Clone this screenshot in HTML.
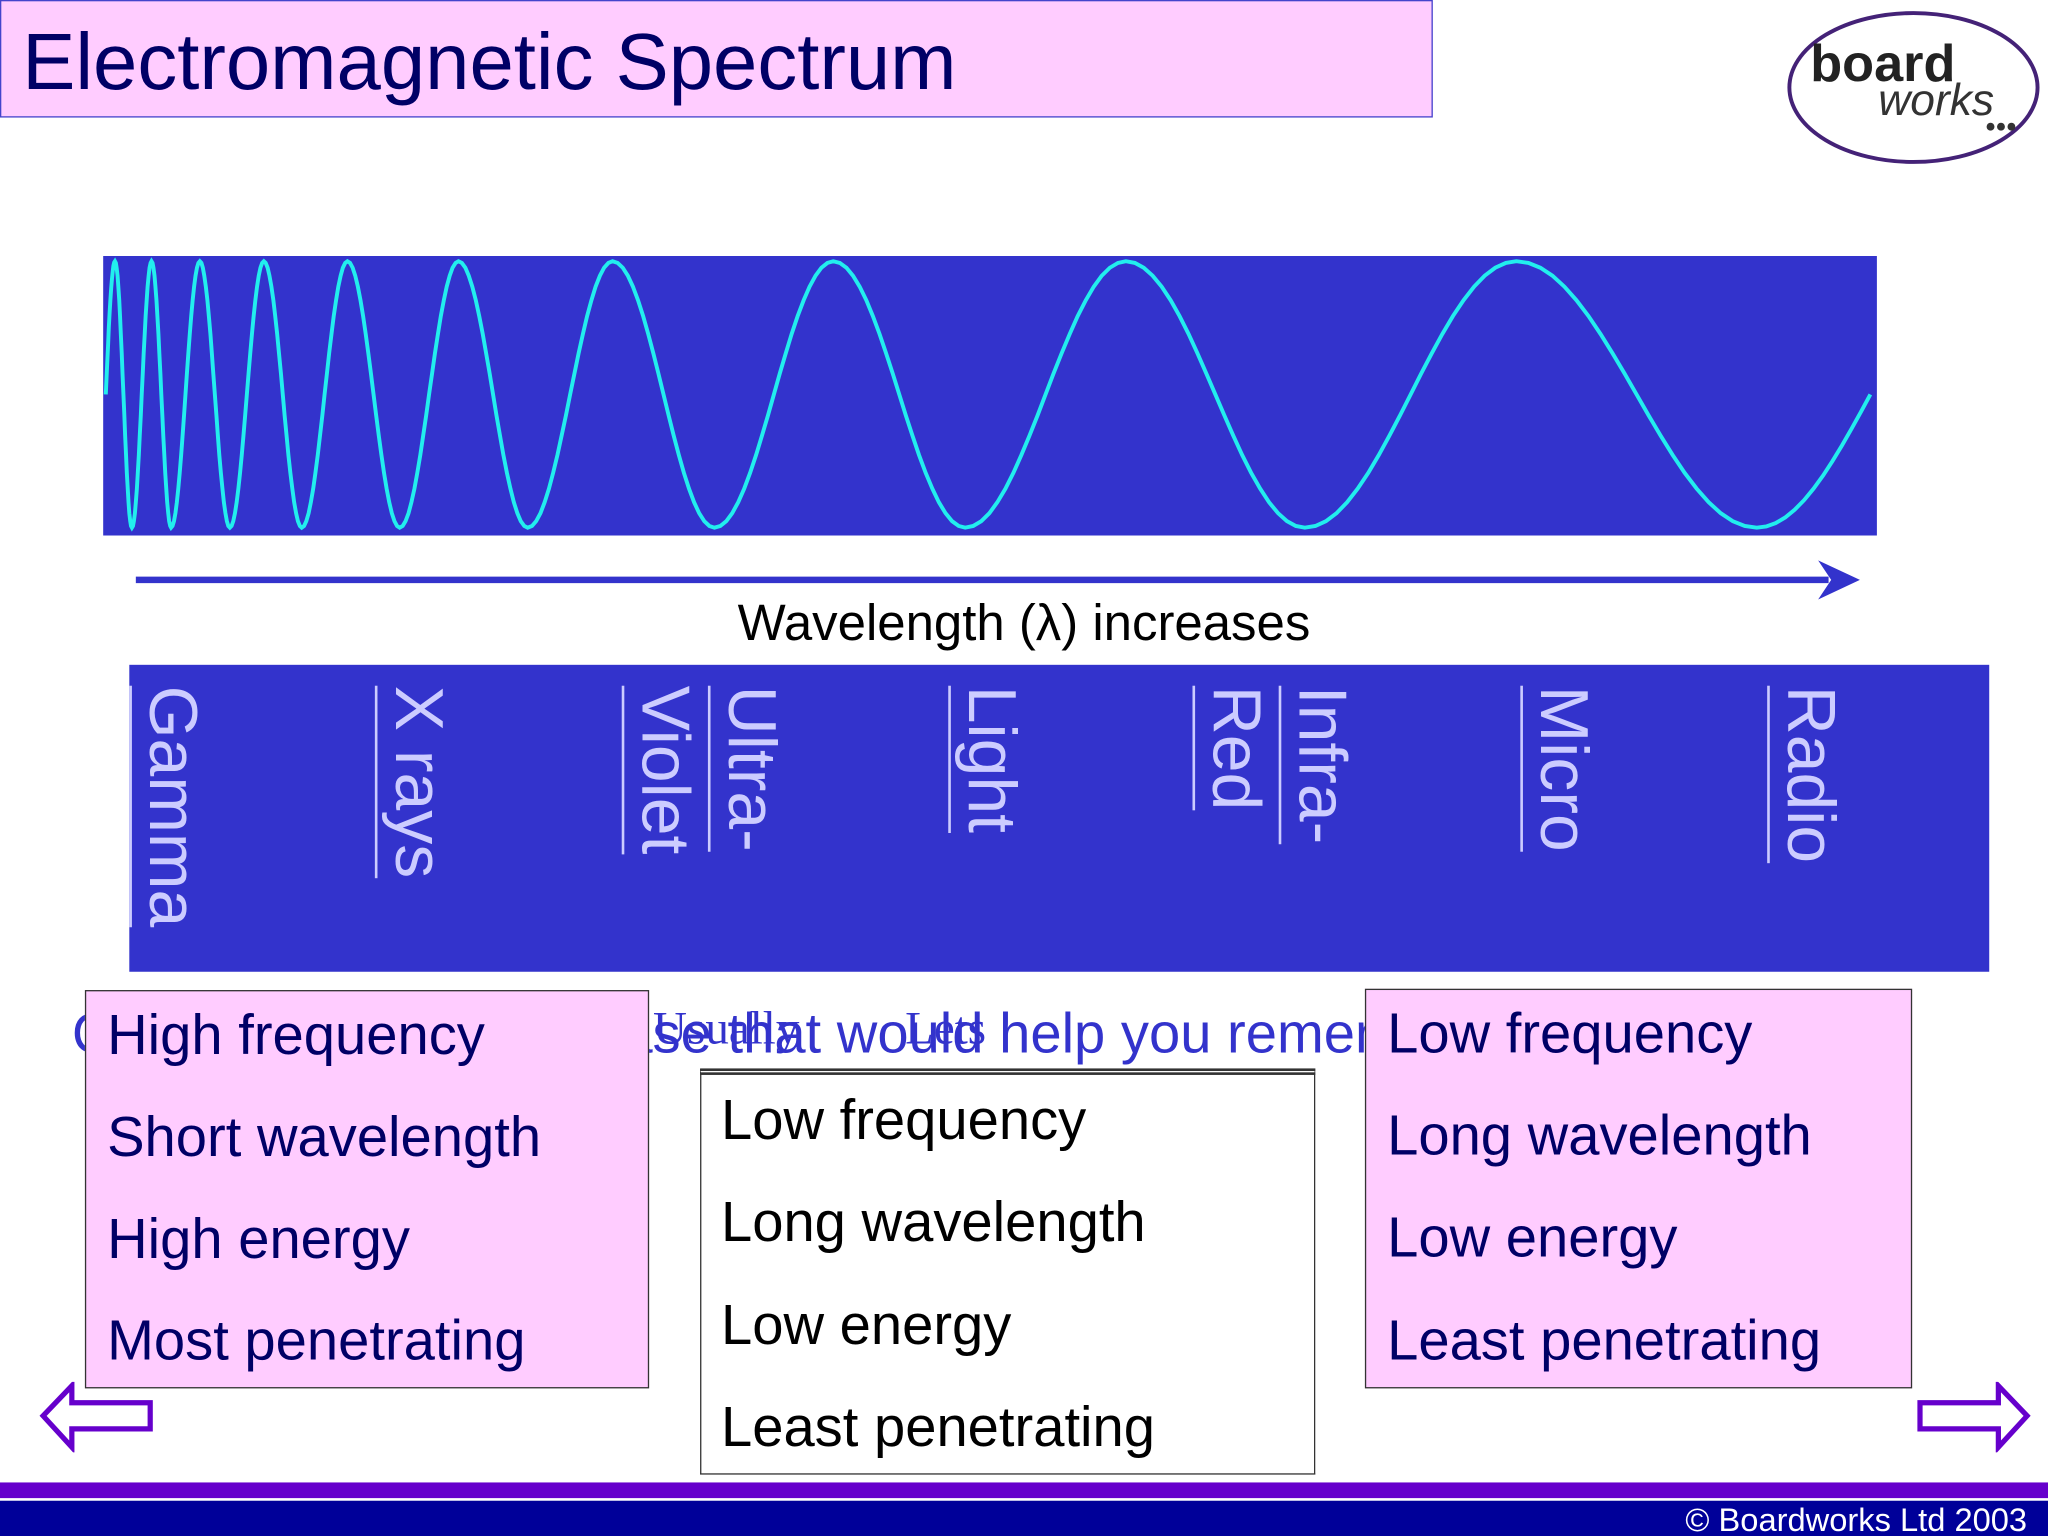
<!DOCTYPE html>
<html><head><meta charset="utf-8">
<style>
html,body{margin:0;padding:0;background:#fff;width:2048px;height:1536px;overflow:hidden}
#stage{position:absolute;left:0;top:0;width:1568px;height:1176px;transform:scale(1.306122);transform-origin:0 0;font-family:"Liberation Sans",Arial,sans-serif}
.abs{position:absolute}
.pinkbox{position:absolute;background:#ffccff;border:1.5px solid #333;box-sizing:border-box}
.line{position:absolute;font-size:43px;white-space:nowrap}
.vlab{position:absolute;top:525px;writing-mode:vertical-rl;font-size:52px;color:#ccccff;text-decoration:underline;text-decoration-thickness:2px;text-underline-offset:4px;line-height:66px;white-space:nowrap}
</style></head><body>
<div id="stage">
  <div class="abs" style="left:0;top:0;width:1097px;height:90px;background:#ffccff;border:1.5px solid #4444cc;box-sizing:border-box"></div>
  <div class="abs" style="left:17px;top:12px;font-size:61px;color:#000066;white-space:nowrap">Electromagnetic Spectrum</div>

  <svg class="abs" style="left:1360px;top:0" width="208" height="135">
    <ellipse cx="105" cy="67" rx="95" ry="57" fill="none" stroke="#442277" stroke-width="3"/>
    <text x="26" y="62" font-family="Liberation Sans" font-weight="bold" font-size="40" fill="#222">board</text>
    <text x="78" y="88" font-family="Liberation Sans" font-style="italic" font-size="34" fill="#333">works</text>
    <circle cx="164" cy="97" r="3" fill="#333"/><circle cx="172" cy="97" r="3" fill="#333"/><circle cx="180" cy="97" r="3" fill="#333"/>
  </svg>

  <svg class="abs" style="left:0;top:0" width="1568" height="520">
    <rect x="79" y="196" width="1358" height="214" fill="#3333cc"/>
    <path id="wave" fill="none" stroke="#22eeee" stroke-width="3"/>
    <line x1="104" y1="444" x2="1400" y2="444" stroke="#3333cc" stroke-width="5"/>
    <polygon points="1392,429 1424,444 1392,459 1402,444" fill="#3333cc"/>
    <text x="784" y="490" text-anchor="middle" font-family="Liberation Sans" font-size="39" fill="#000">Wavelength (λ) increases</text>
  </svg>

  <div class="abs" style="left:99px;top:509px;width:1424px;height:235px;background:#3333cc"></div>
  <div class="vlab" style="left:99px">Gamma</div>
  <div class="vlab" style="left:287px">X rays</div>
  <div class="vlab" style="left:476px">Ultra-<br>Violet</div>
  <div class="vlab" style="left:726px">Light</div>
  <div class="vlab" style="left:913px">Infra-<br>Red</div>
  <div class="vlab" style="left:1164px">Micro</div>
  <div class="vlab" style="left:1353px">Radio</div>

  <div class="abs" style="left:55px;top:768px;font-size:43px;color:#3333cc;white-space:nowrap">Can you think of a phrase that would help you remember?</div>
  <div class="abs" style="left:500px;top:766px;font-size:36px;color:#3333cc;font-family:'Liberation Serif',serif;white-space:nowrap">Usually &nbsp;&nbsp;&nbsp;&nbsp;&nbsp;&nbsp;&nbsp;&nbsp;Lets</div>

  <div class="pinkbox" style="left:65px;top:758px;width:432px;height:305px"></div>
  <div class="line" style="left:82px;top:769px;color:#000066">High frequency</div>
  <div class="line" style="left:82px;top:847px;color:#000066">Short wavelength</div>
  <div class="line" style="left:82px;top:925px;color:#000066">High energy</div>
  <div class="line" style="left:82px;top:1003px;color:#000066">Most penetrating</div>

  <div class="abs" style="left:536px;top:818px;width:471px;height:311px;background:#fff;border:1.5px solid #333;border-top:5px double #333;box-sizing:border-box"></div>
  <div class="line" style="left:552px;top:834px;color:#000">Low frequency</div>
  <div class="line" style="left:552px;top:912px;color:#000">Long wavelength</div>
  <div class="line" style="left:552px;top:991px;color:#000">Low energy</div>
  <div class="line" style="left:552px;top:1069px;color:#000">Least penetrating</div>

  <div class="pinkbox" style="left:1045px;top:757px;width:419px;height:306px"></div>
  <div class="line" style="left:1062px;top:768px;color:#000066">Low frequency</div>
  <div class="line" style="left:1062px;top:846px;color:#000066">Long wavelength</div>
  <div class="line" style="left:1062px;top:924px;color:#000066">Low energy</div>
  <div class="line" style="left:1062px;top:1003px;color:#000066">Least penetrating</div>

  <svg class="abs" style="left:30px;top:1058px" width="90" height="54">
    <polygon points="3,26 25,3 25,16 85,16 85,36 25,36 25,50" fill="#fff" stroke="#6600cc" stroke-width="4"/>
  </svg>
  <svg class="abs" style="left:1467px;top:1058px" width="90" height="54">
    <polygon points="85,26 63,3 63,16 3,16 3,36 63,36 63,50" fill="#fff" stroke="#6600cc" stroke-width="4"/>
  </svg>

  <div class="abs" style="left:0;top:1135px;width:1568px;height:12px;background:#6600cc"></div>
  <div class="abs" style="left:0;top:1149px;width:1568px;height:27px;background:#000099"></div>
  <div class="abs" style="right:16px;top:1150px;font-size:25px;color:#fff;white-space:nowrap">© Boardworks Ltd 2003</div>
</div>
<script>
// x positions of alternating extrema (peak, trough, ...)
const extremaX = [88,101,116,131,153,176,202,231,266,306,351,404,469,547,638,739,862,999,1161,1345];
const startX = 81, endX = 1432;
const yTop = 200, yBottom = 404;
const yMid = (yTop + yBottom) / 2;
function buildWave(){
  let d = 'M' + startX + ',' + yMid;
  const seg = (x0, y0, x1, y1) => {
    const n = 20; let s = '';
    for (let i = 1; i <= n; i++) {
      const t = i / n;
      const f = (1 - Math.cos(Math.PI * t)) / 2;
      s += ' L' + (x0 + (x1 - x0) * t).toFixed(1) + ',' + (y0 + (y1 - y0) * f).toFixed(1);
    }
    return s;
  };
  const q = (x0, y0, x1, y1) => {
    const n = 12; let s = '';
    for (let i = 1; i <= n; i++) {
      const t = i / n;
      s += ' L' + (x0 + (x1 - x0) * t).toFixed(1) + ',' + (y0 + (y1 - y0) * Math.sin(Math.PI / 2 * t)).toFixed(1);
    }
    return s;
  };
  d += q(startX, yMid, extremaX[0], yTop);
  for (let i = 1; i < extremaX.length; i++) {
    const y0 = i % 2 ? yTop : yBottom, y1 = i % 2 ? yBottom : yTop;
    d += seg(extremaX[i - 1], y0, extremaX[i], y1);
  }
  const lastY = extremaX.length % 2 ? yTop : yBottom;
  const n = 12;
  const x0 = extremaX[extremaX.length - 1];
  for (let i = 1; i <= n; i++) {
    const t = i / n;
    d += ' L' + (x0 + (endX - x0) * t).toFixed(1) + ',' + (lastY + (yMid - lastY) * (1 - Math.cos(Math.PI / 2 * t))).toFixed(1);
  }
  document.getElementById('wave').setAttribute('d', d);
}
buildWave();
</script>
</body></html>
